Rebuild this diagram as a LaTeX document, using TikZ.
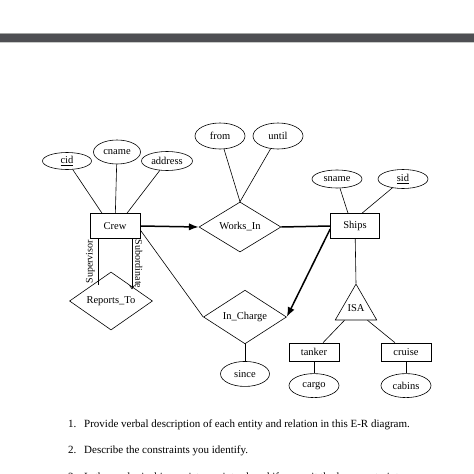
\documentclass[tikz,border=0pt]{standalone}
\usepackage{fontspec}
\setmainfont{Liberation Serif}
\usepackage{xcolor}
\definecolor{BarGray}{HTML}{4E4F53}
\definecolor{BarEdge}{HTML}{A4A6A4}
\usepackage{tikz}
\usetikzlibrary{arrows.meta,positioning,shapes.geometric,calc}

\begin{document}
\begin{tikzpicture}[x=1pt,y=-1pt,>=Latex,
entity/.style={draw,line width=0.6pt,minimum width=50pt,minimum height=25pt,inner sep=1pt,font=\fontsize{10.5}{12}\selectfont},
attr/.style={draw,line width=0.6pt,ellipse,minimum width=50pt,minimum height=20pt,inner sep=0pt,font=\fontsize{10.5}{12}\selectfont},
relship/.style={draw,line width=0.6pt,diamond,minimum width=83pt,minimum height=50pt,inner sep=0pt,font=\fontsize{10.5}{12}\selectfont},
link/.style={line width=0.6pt},
heavy/.style={line width=1.5pt},
role/.style={font=\fontsize{10}{12}\selectfont,inner sep=3pt},
question/.style={anchor=base west,inner sep=0pt,font=\fontsize{11}{13}\selectfont}]
\clip (0,0) rectangle (474,474);
\fill[white] (0,0) rectangle (474,474);
% window bar
\fill[BarGray] (0,33) rectangle (474,43);
\draw[BarEdge,line width=0.8pt] (0,33.4) -- (474,33.4);
\draw[BarEdge!60,line width=0.8pt] (0,42.6) -- (474,42.6);
% entities and relationships
\node[entity] (crew) at (115,226) {Crew};
\node[entity,minimum width=49pt] (ships) at (355,226) {Ships};
\node[relship,minimum width=82pt] (worksin) at (240,227) {Works\_In};
\node[relship,minimum height=49pt] (reportsto) at (111,301) {Reports\_To};
\node[relship,minimum height=49pt] (incharge) at (245,317) {In\_Charge};
\node[draw,line width=0.6pt,regular polygon,regular polygon sides=3,minimum size=46pt,inner sep=0pt,font=\fontsize{10.5}{12}\selectfont] (isa) at (356,308) {ISA};
\node[entity,minimum height=18pt] (tanker) at (314,352) {tanker};
\node[entity,minimum height=18pt] (cruise) at (406,352) {cruise};
% attributes
\node[attr,minimum width=49pt,minimum height=17pt] (cid) at (67,161) {\underline{cid}};
\node[attr,minimum width=47pt,minimum height=24pt] (cname) at (117,152) {cname};
\node[attr,minimum width=51pt,minimum height=19pt] (address) at (167,161) {address};
\node[attr,minimum height=26pt] (from) at (220,136) {from};
\node[attr,minimum height=26pt] (until) at (278,136) {until};
\node[attr,minimum height=18pt] (sname) at (337,179) {sname};
\node[attr,minimum height=19pt] (sid) at (403,179) {\underline{sid}};
\node[attr,minimum width=49pt,minimum height=25pt,below=17pt of incharge] (since) {since};
\node[attr,minimum height=24pt,below=12pt of tanker] (cargo) {cargo};
\node[attr,minimum height=24pt,below=12pt of cruise] (cabins) {cabins};
% attribute links
\draw[link] (cid) -- ([xshift=-13pt]crew.north);
\draw[link] (cname) -- (crew);
\draw[link] (address) -- ([xshift=12pt]crew.north);
\draw[link] (from) -- (worksin.north);
\draw[link] (until) -- (worksin.north);
\draw[link] (sname) -- ([xshift=-7pt]ships.north);
\draw[link] (sid) -- ([xshift=7pt]ships.north);
\draw[link] (incharge.south) -- (since);
\draw[link] (tanker) -- (cargo);
\draw[link] (cruise) -- (cabins);
% relationship links
\draw[heavy,->] (crew.east) -- (worksin.west);
\draw[heavy] (worksin.east) -- (ships.west);
\draw[heavy,->] ([yshift=-3pt]ships.west) -- (incharge.east);
\draw[link] ([yshift=-4pt]crew.east) -- (incharge.west);
\draw[link] ([xshift=-17pt]crew.south) -- ++(0,46) node[role,midway,rotate=90,anchor=south] {Supervisor};
\draw[link,-{Straight Barb[length=3.5pt,width=5pt]}] ([xshift=17pt]crew.south) -- ++(0,50.5) node[role,midway,rotate=-90,anchor=south] {Subordinate};
% isa hierarchy
\draw[link] (ships) -- (isa.corner 1);
\draw[link] ($(isa.corner 2)!0.23!(isa.corner 3)$) -- ([xshift=9pt]tanker.north);
\draw[link] ($(isa.corner 2)!0.77!(isa.corner 3)$) -- ([xshift=-11pt]cruise.north);
% questions
\node[question] (n1) at (68,427) {1.};
\node[question] (q1) at (84,427) {Provide verbal description of each entity and relation in this E-R diagram.};
\node[question] (n2) at (68,453) {2.};
\node[question] (q2) at (84,453) {Describe the constraints you identify.};
\node[question] (n3) at (68,480) {3.};
\node[question] (q3) at (84,480) {Is there a logical inconsistency introduced if we omit the key constraint on};
\end{tikzpicture}
\end{document}
